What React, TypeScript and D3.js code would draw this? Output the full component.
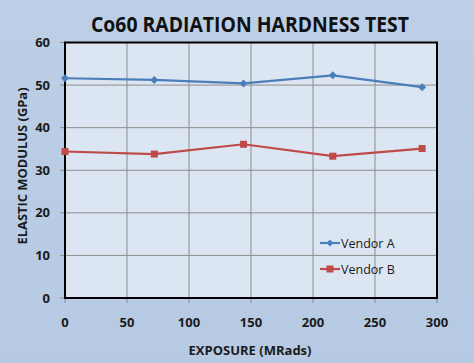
import React from "react";
import * as d3 from "d3";

const exposure = [0, 72, 144, 216, 288];
const vendorA = [51.6, 51.2, 50.4, 52.3, 49.5];
const vendorB = [34.4, 33.8, 36.1, 33.3, 35.1];
const xTicks = [0, 50, 100, 150, 200, 250, 300];
const yTicks = [0, 10, 20, 30, 40, 50, 60];
const seriesNames = ["Vendor A", "Vendor B"];

const W = 474, H = 363;
const L = 65, R = 437, T = 42.5, B = 298;
const font = "Open Sans, Liberation Sans, sans-serif";

export default function App() {
  const x = d3.scaleLinear().domain([0, 300]).range([L, R]);
  const y = d3.scaleLinear().domain([0, 60]).range([B, T]);
  const line = d3.line<number>().x((_, i) => x(exposure[i])).y((d) => y(d));
  const blue = "#4a7ebb";
  const red = "#be4b48";
  return (
    <svg width={W} height={H} style={{ position: "absolute", left: 0, top: 0, display: "block" }}>
      <defs>
        <linearGradient id="bg" x1="0" y1="0" x2="0" y2="1">
          <stop offset="0" stopColor="#bccfe6" />
          <stop offset="1" stopColor="#b6cae3" />
        </linearGradient>
      </defs>
      <rect x={0} y={0} width={W} height={H} fill="url(#bg)" />
      <rect x={L} y={T} width={R - L} height={B - T} fill="#dce6f2" />
      {yTicks.map((t) => (
        <g key={"y" + t}>
          <line x1={L} x2={R} y1={y(t)} y2={y(t)} stroke="#8c8c8c" strokeWidth={1} />
          <line x1={L - 5} x2={L} y1={y(t)} y2={y(t)} stroke="#8c8c8c" strokeWidth={1} />
          <text x={50} y={y(t) + 4.5} textAnchor="end" fontFamily={font} fontWeight="bold" fontSize={13} fill="#1a1a1a">{t}</text>
        </g>
      ))}
      {xTicks.map((t) => (
        <g key={"x" + t}>
          <line x1={x(t)} x2={x(t)} y1={T} y2={B} stroke="#8c8c8c" strokeWidth={1} />
          <line x1={x(t)} x2={x(t)} y1={B} y2={B + 5} stroke="#8c8c8c" strokeWidth={1} />
          <text x={x(t)} y={327} textAnchor="middle" fontFamily={font} fontWeight="bold" fontSize={13} fill="#1a1a1a">{t}</text>
        </g>
      ))}
      <rect x={L} y={T} width={R - L} height={B - T} fill="none" stroke="#000" strokeWidth={2} />
      <path d={line(vendorA) || ""} fill="none" stroke={blue} strokeWidth={2.2} />
      {vendorA.map((v, i) => (
        <path key={"a" + i} d={`M${x(exposure[i])},${y(v) - 4}l4,4l-4,4l-4,-4z`} fill={blue} />
      ))}
      <path d={line(vendorB) || ""} fill="none" stroke={red} strokeWidth={2.2} />
      {vendorB.map((v, i) => (
        <rect key={"b" + i} x={x(exposure[i]) - 3.5} y={y(v) - 3.5} width={7} height={7} fill={red} />
      ))}
      {/* legend */}
      <g>
        <line x1={320} x2={340} y1={243} y2={243} stroke={blue} strokeWidth={2.2} />
        <path d={`M330,239.5l3.5,3.5l-3.5,3.5l-3.5,-3.5z`} fill={blue} />
        <text x={341} y={247.5} fontFamily={font} fontSize={12.5} fill="#1a1a1a">{seriesNames[0]}</text>
        <line x1={320} x2={340} y1={269} y2={269} stroke={red} strokeWidth={2.2} />
        <rect x={326.5} y={265.5} width={7} height={7} fill={red} />
        <text x={341} y={273.5} fontFamily={font} fontSize={12.5} fill="#1a1a1a">{seriesNames[1]}</text>
      </g>
      <text x={250} y={32} textAnchor="middle" fontFamily={font} fontWeight="bold" fontSize={22} fill="#111" textLength={318} lengthAdjust="spacingAndGlyphs">Co60 RADIATION HARDNESS TEST</text>
      <text x={250} y={355} textAnchor="middle" fontFamily={font} fontWeight="bold" fontSize={13} fill="#1a1a1a" textLength={123} lengthAdjust="spacingAndGlyphs">EXPOSURE (MRads)</text>
      <text transform={`translate(27,166) rotate(-90)`} textAnchor="middle" fontFamily={font} fontWeight="bold" fontSize={13} fill="#1a1a1a" textLength={157} lengthAdjust="spacingAndGlyphs">ELASTIC MODULUS (GPa)</text>
    </svg>
  );
}
